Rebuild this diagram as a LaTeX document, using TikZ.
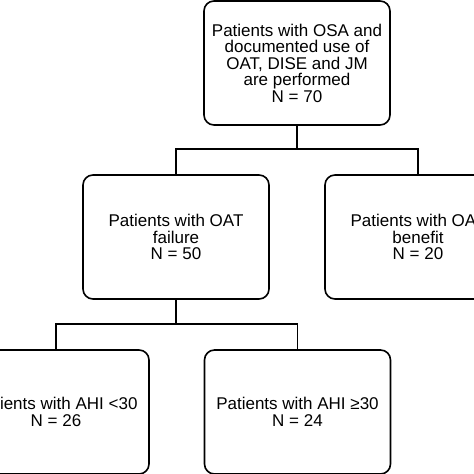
\documentclass[tikz,border=0pt]{standalone}
\usepackage{fontspec}
\setmainfont{Liberation Sans}
\usetikzlibrary{positioning,calc}

\begin{document}
\begin{tikzpicture}
[x=1pt,y=1pt,line width=1.6pt,
box/.style={
draw,
rounded corners=10pt,
align=center,
inner sep=0pt,
minimum width=186pt,
minimum height=124pt,
font=\fontsize{17}{16.5}\selectfont}]
\useasboundingbox (0,0) rectangle (474,474);
\clip (0,0) rectangle (474,474);

\node (all) at (297,411) [box] {Patients with OSA and\\documented use of\\OAT, DISE and JM\\are performed\\N = 70};
\node (fail) at (176,237) [box] {Patients with OAT\\failure\\N = 50};
\node (gain) at (418,237) [box] {Patients with OAT\\benefit\\N = 20};
\node (low) at (56,62) [box] {Patients with AHI <30\\N = 26};
\node (high) at (297.5,62) [box] {Patients with AHI ≥30\\N = 24};

\coordinate (j1) at (297,325);
\coordinate (j2) at (176,150);

\draw (all) -- (j1);
\draw (fail.north) |- (j1) -| (gain.north);

\draw (fail) -- (j2);
\draw (low.north) |- (j2) -| (high.north);

\end{tikzpicture}
\end{document}
